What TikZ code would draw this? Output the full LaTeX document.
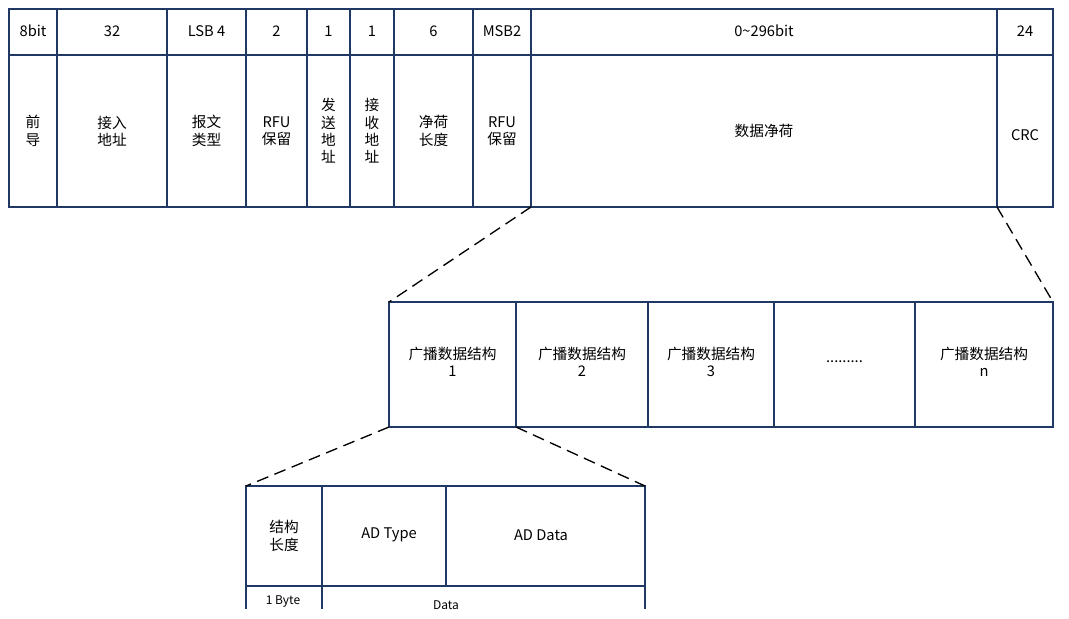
\documentclass[tikz,border=0pt]{standalone}
\usepackage{fontspec}
\setmainfont{Noto Sans CJK SC}
\begin{document}
\begin{tikzpicture}[x=0.75pt,y=-0.75pt,
  box/.style={draw=navy,line width=1.9pt},
  thin/.style={draw=navy,line width=1.3pt},
  lab/.style={font=\fontsize{11}{13}\selectfont,align=center,inner sep=0pt},
  small/.style={font=\fontsize{9}{11}\selectfont,inner sep=0pt},
  dashline/.style={draw=black,line width=1pt,dash pattern=on 9pt off 5pt}]
\definecolor{navy}{HTML}{1F3864}
\useasboundingbox (0,0) rectangle (1069,618);
% top table
\foreach \a/\b [count=\i] in {9/57,57/167,167/246,246/307,307/350,350/394,394/473,473/531,531/997,997/1053}{
  \draw[box] (\a,9) rectangle (\b,55);
  \draw[box] (\a,55) rectangle (\b,207);
  \coordinate (h\i) at ({(\a+\b)/2},31);
  \coordinate (t\i) at ({(\a+\b)/2},131);
}
\foreach \i/\t in {1/8bit,2/32,3/LSB 4,4/2,5/1,6/1,7/6,8/MSB2,9/0\textasciitilde296bit,10/24}
  \node[lab] (hn\i) at (h\i) {\t};
\node[lab] (n1) at (t1) {前\\导};
\node[lab] (n2) at (t2) {接入\\地址};
\node[lab] (n3) at (t3) {报文\\类型};
\node[lab] (n4) at (t4) {RFU\\保留};
\node[lab] (n5) at (t5) {发\\送\\地\\址};
\node[lab] (n6) at (t6) {接\\收\\地\\址};
\node[lab] (n7) at (t7) {净荷\\长度};
\node[lab] (n8) at (t8) {RFU\\保留};
\node[lab] (n9) at (t9) {数据净荷};
\node[lab] (n10) at ([yshift=-3pt]t10) {CRC};
\coordinate (pl) at (531,207); \coordinate (pr) at (997,207);
% middle
\foreach \a/\b [count=\i] in {389/516,516/648,648/774,774/915,915/1053}{
  \draw[box] (\a,302) rectangle (\b,427);
  \coordinate (m\i) at ({(\a+\b)/2},362);
}
\node[lab] (s1) at (m1) {广播数据结构\\1};
\node[lab] (s2) at (m2) {广播数据结构\\2};
\node[lab] (s3) at (m3) {广播数据结构\\3};
\node[lab] (s4) at (m4) {.........};
\node[lab] (s5) at (m5) {广播数据结构\\n};
\coordinate (ml) at (389,302); \coordinate (mr) at (1053,302);
\coordinate (ml2) at (389,427); \coordinate (mr2) at (516,427);
\draw[dashline] (pl) -- (ml);
\draw[dashline] (pr) -- (mr);
% bottom
\draw[box] (246,486) rectangle (322,586);
\draw[box] (322,486) rectangle (446,586);
\draw[box] (446,486) rectangle (645,586);
\coordinate (bl) at (246,486); \coordinate (br) at (645,486);
\draw[dashline] (ml2) -- (bl);
\draw[dashline] (mr2) -- (br);
\node[lab] (b1) at (284,536) {结构\\长度};
\node[lab] (b2) at (389,535) {AD Type};
\node[lab] (b3) at (541,535) {AD Data};
\draw[thin] (246,586) -- (246,609);
\draw[thin] (322,586) -- (322,609);
\draw[thin] (645,586) -- (645,609);
\node[small] (l1) at (283,601) {1 Byte};
\node[small] (l2) at (446,605) {Data};
\end{tikzpicture}
\end{document}
